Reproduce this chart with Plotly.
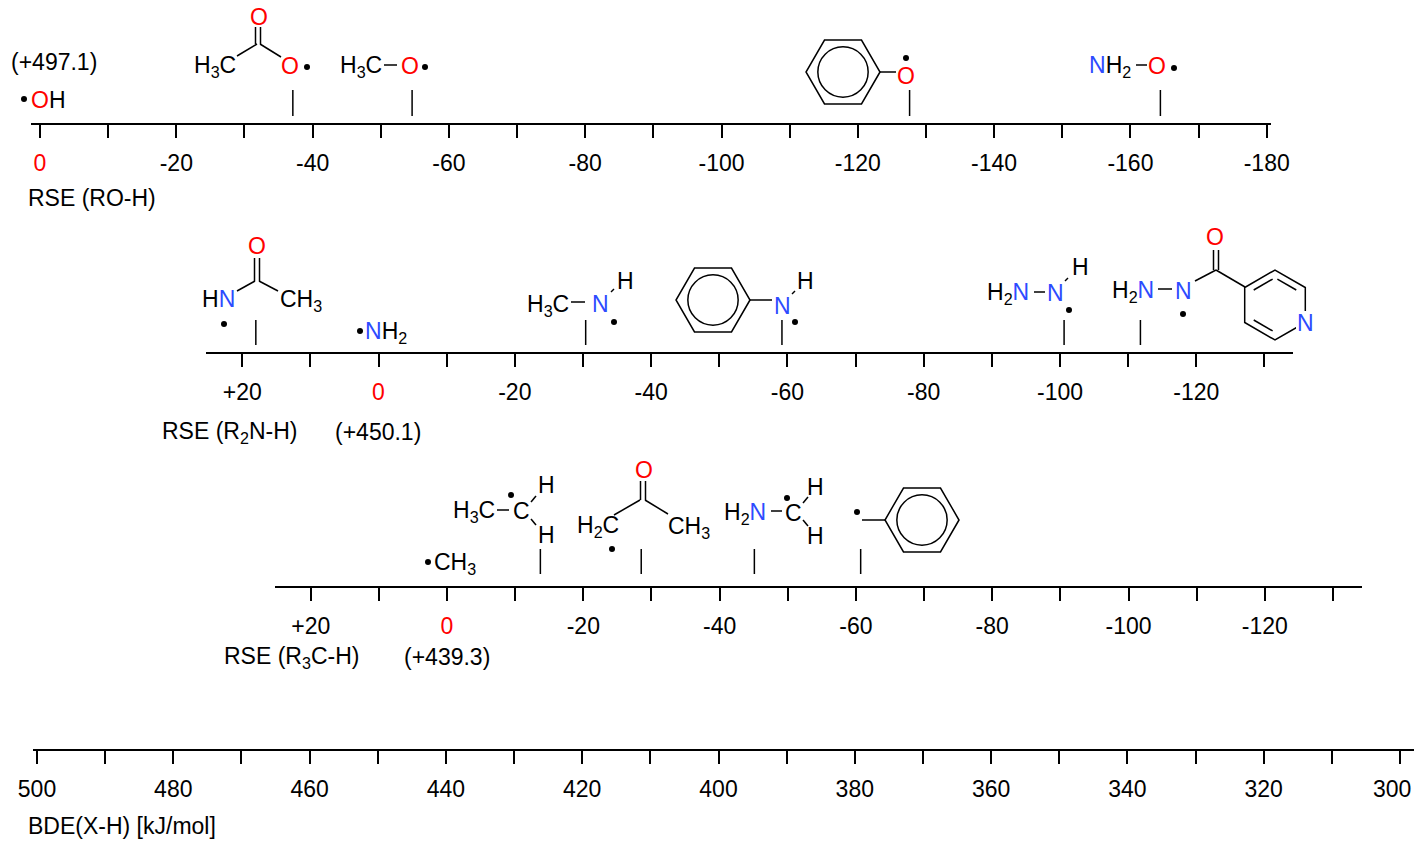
import math
import plotly.graph_objects as go

# tick values of the four scales
ro_ticks = list(range(0, -181, -10))
rn_ticks = list(range(20, -131, -10))
rc_ticks = list(range(20, -131, -10))
bde_ticks = list(range(500, 299, -10))

# radical stabilisation energies
ro_names = ["acetyloxyl", "methoxyl", "phenoxyl", "aminoxyl"]
ro_rse = [-37.1, -54.6, -127.6, -164.4]
rn_names = ["acetamidyl", "methylaminyl", "anilinyl", "hydrazinyl", "isoniazid"]
rn_rse = [18.0, -30.4, -59.2, -100.6, -111.8]
rc_names = ["ethyl", "acetonyl", "aminomethyl", "benzyl"]
rc_rse = [-13.7, -28.5, -45.1, -60.7]

S = 6.815  # px per kJ/mol
OFF = 8    # page body margin
W, H = 1422, 846
FONT = "Liberation Sans, Arial, Helvetica"
FS = 23
RED = "#ff0000"
BLUE = "#2d4bff"


def lbl(v, zero_red=True, plus=False):
    if v % 20:
        return ""
    if v == 0 and zero_red:
        return "<span style='color:%s'>0</span>" % RED
    return ("+%d" % v) if (plus and v > 0) else "%d" % v


def base_axis(left, right, ypx):
    return dict(domain=[(left - OFF) / W, (right - OFF) / W],
                anchor="free", position=1 - (ypx - OFF) / H, automargin=False,
                showline=True, linecolor="black", linewidth=1.5,
                ticks="outside", ticklen=13, tickwidth=1.5, tickcolor="black",
                tickfont=dict(family=FONT, size=FS, color="black"),
                ticklabelstandoff=6,
                showgrid=False, zeroline=False, fixedrange=True)


def rse_axis(p0, left, right, ypx, ticks):
    # axis spanning page pixels left..right, value 0 at pixel p0
    ax = base_axis(left, right, ypx)
    ax.update(range=[(p0 - left) / S, (p0 - right) / S],
              tickvals=ticks, ticktext=[lbl(v, plus=True) for v in ticks])
    return ax


fig = go.Figure()

axes = [("x", ro_rse, 116, 90), ("x2", rn_rse, 345, 320), ("x3", rc_rse, 574, 549)]
for xa, vals, y0, y1 in axes:
    xs, ys = [], []
    for v in vals:
        xs += [v, v, None]
        ys += [y0, y1, None]
    fig.add_trace(go.Scatter(x=xs, y=ys, xaxis=xa, yaxis="y5", mode="lines",
                             line=dict(color="black", width=1.5),
                             hoverinfo="skip", showlegend=False))
fig.add_trace(go.Scatter(x=[None], y=[None], xaxis="x4", yaxis="y5",
                         mode="lines", showlegend=False))
fig.add_trace(go.Scatter(x=[None], y=[None], xaxis="x5", yaxis="y5",
                         mode="lines", showlegend=False))

shapes = []
ann = []


def bond(x0, y0, x1, y1):
    shapes.append(dict(type="line", xref="x5", yref="y5", x0=x0, y0=y0, x1=x1, y1=y1,
                       line=dict(color="black", width=1.5)))


def dbl(x, y0, y1):
    bond(x - 2.5, y0, x - 2.5, y1)
    bond(x + 2.5, y0, x + 2.5, y1)


def txt(x, y, s, size=FS, anchor="center"):
    ann.append(dict(x=x, y=y, xref="x5", yref="y5", text=s, showarrow=False,
                    xanchor=anchor, yanchor="middle",
                    font=dict(family=FONT, size=size, color="black")))


def dot(x, y):
    shapes.append(dict(type="circle", xref="x5", yref="y5", x0=x - 3, x1=x + 3,
                       y0=y - 3, y1=y + 3, fillcolor="black", line=dict(width=0)))


def red(s):
    return "<span style='color:%s'>%s</span>" % (RED, s)


def blue(s):
    return "<span style='color:%s'>%s</span>" % (BLUE, s)


def hexagon(cx, cy, r, rot=0, circle=True):
    pts = [(cx + r * math.cos(math.radians(rot + 60 * k)),
            cy + r * math.sin(math.radians(rot + 60 * k))) for k in range(6)]
    path = "M " + " L ".join("%.1f,%.1f" % p for p in pts) + " Z"
    shapes.append(dict(type="path", xref="x5", yref="y5", path=path,
                       line=dict(color="black", width=1.5)))
    if circle:
        rc = r * 0.68
        shapes.append(dict(type="circle", xref="x5", yref="y5",
                           x0=cx - rc, x1=cx + rc, y0=cy - rc, y1=cy + rc,
                           line=dict(color="black", width=1.5)))
    return pts


# ---- RO-H row
txt(9, 62, "(+497.1)", anchor="left")
dot(24, 99)
txt(48, 100, red("O") + "H")
txt(215, 66, "H<sub>3</sub>C")
bond(237, 56, 257, 44)
bond(260, 44, 281, 57)
dbl(258, 27, 44)
txt(259, 17, red("O"))
txt(290, 66, red("O"))
dot(307, 67)
txt(361, 66, "H<sub>3</sub>C")
bond(384, 65, 397, 65)
txt(410, 66, red("O"))
dot(425, 67)
hexagon(843, 72, 37)
bond(880, 72, 896, 72)
txt(906, 76, red("O"))
dot(906, 58)
txt(1110, 66, blue("N") + "H<sub>2</sub>")
bond(1136, 65, 1147, 65)
txt(1157, 66, red("O"))
dot(1174, 68)

# ---- R2N-H row
txt(218, 299, "H" + blue("N"))
dot(224, 324)
bond(237, 291, 255, 281)
bond(259, 281, 278, 291)
dbl(257, 258, 281)
txt(257, 246, red("O"))
txt(301, 300, "CH<sub>3</sub>")
dot(360, 331)
txt(386, 332, blue("N") + "H<sub>2</sub>")
txt(548, 305, "H<sub>3</sub>C")
bond(571, 302, 585, 302)
txt(600, 304, blue("N"))
bond(611, 292, 614, 289)
txt(625, 281, "H")
dot(614, 322)
hexagon(713, 300, 37)
bond(750, 300, 772, 300)
txt(782, 306, blue("N"))
bond(792, 294, 795, 291)
txt(805, 281, "H")
dot(795, 322)
txt(1008, 293, "H<sub>2</sub>" + blue("N"))
bond(1034, 292, 1045, 292)
txt(1055, 293, blue("N"))
bond(1065, 281, 1068, 278)
txt(1080, 267, "H")
dot(1069, 310)
txt(1133, 291, "H<sub>2</sub>" + blue("N"))
bond(1158, 289, 1172, 289)
txt(1183, 291, blue("N"))
dot(1183, 314)
bond(1195, 281, 1216, 270)
dbl(1216, 250, 270)
txt(1215, 237, red("O"))
bond(1216, 270, 1245, 287)
pts = hexagon(1275, 305, 35, rot=30, circle=False)
# inner double-bond lines of the pyridine ring
for a, b in [(4, 5), (1, 2), (3, 4)]:
    (xa, ya), (xb, yb) = pts[a], pts[b]
    cx, cy = 1275, 305
    f = 0.78
    ax_, ay_ = cx + (xa - cx) * f, cy + (ya - cy) * f
    bx_, by_ = cx + (xb - cx) * f, cy + (yb - cy) * f
    mx, my = (ax_ + bx_) / 2, (ay_ + by_) / 2
    bond(mx + (ax_ - mx) * 0.8, my + (ay_ - my) * 0.8,
         mx + (bx_ - mx) * 0.8, my + (by_ - my) * 0.8)
shapes.append(dict(type="rect", xref="x5", yref="y5", x0=1296, x1=1315, y0=311, y1=335,
                   fillcolor="white", line=dict(width=0)))
txt(1305, 323, blue("N"))

# ---- R3C-H row
dot(428, 562)
txt(455, 563, "CH<sub>3</sub>")
txt(474, 511, "H<sub>3</sub>C")
bond(497, 510, 509, 510)
txt(521, 511, "C")
dot(511, 495)
bond(531, 502, 536, 496)
txt(546, 485, "H")
bond(531, 519, 536, 525)
txt(546, 535, "H")
txt(598, 526, "H<sub>2</sub>C")
dot(612, 549)
bond(614, 515, 640, 500)
bond(645, 500, 668, 514)
dbl(643, 481, 500)
txt(644, 470, red("O"))
txt(689, 527, "CH<sub>3</sub>")
txt(745, 513, "H<sub>2</sub>" + blue("N"))
bond(771, 511, 782, 511)
txt(793, 513, "C")
dot(787, 498)
bond(803, 503, 808, 497)
txt(815, 487, "H")
bond(803, 520, 808, 526)
txt(815, 536, "H")
dot(857, 512)
bond(862, 520, 885, 520)
hexagon(922, 520, 37)

# ---- axis captions
txt(26, 198, "RSE (RO-H)", anchor="left")
txt(160, 432, "RSE (R<sub>2</sub>N-H)", anchor="left")
txt(378, 432, "(+450.1)")
txt(222, 657, "RSE (R<sub>3</sub>C-H)", anchor="left")
txt(447, 657, "(+439.3)")
txt(26, 826, "BDE(X-H) [kJ/mol]", anchor="left")
# last BDE label kept inside the visible page edge
txt(1413, 789, "300", anchor="right")

bde_axis = base_axis(33, 1414, 750)
bde_axis.update(range=[500 + (37 - 33) / S, 500 - (1414 - 37) / S],
                tickvals=bde_ticks,
                ticktext=[("%d" % v if v % 20 == 0 and v != 300 else "") for v in bde_ticks])

fig.update_layout(
    width=W, height=H, margin=dict(l=0, r=0, t=0, b=0, autoexpand=False),
    paper_bgcolor="white", plot_bgcolor="rgba(0,0,0,0)",
    showlegend=False,
    xaxis=rse_axis(40, 31, 1271, 124, ro_ticks),
    xaxis2=rse_axis(378.5, 206, 1293, 353, rn_ticks),
    xaxis3=rse_axis(447, 275, 1362, 587, rc_ticks),
    xaxis4=bde_axis,
    xaxis5=dict(domain=[0, 1], range=[OFF, OFF + W], visible=False, anchor="y5", fixedrange=True),
    yaxis5=dict(domain=[0, 1], range=[OFF + H, OFF], visible=False, anchor="x5", fixedrange=True),
    shapes=shapes, annotations=ann,
)
fig.write_html("out.html")
